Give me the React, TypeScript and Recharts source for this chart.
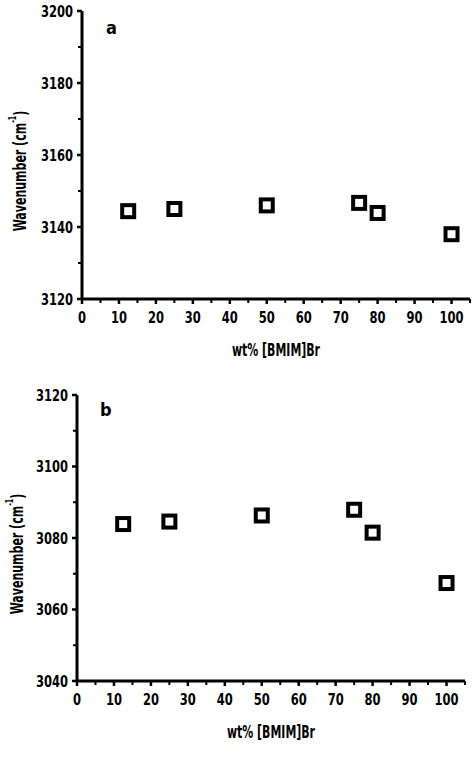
import { ScatterChart, Scatter, XAxis, YAxis, ReferenceDot, Label } from "recharts";

const wtPercent = [12.5, 25, 50, 75, 80, 100];
const wavenumberA = [3144.4, 3145, 3146, 3146.7, 3143.9, 3138];
const wavenumberB = [3083.9, 3084.6, 3086.3, 3087.9, 3081.5, 3067.4];

const xTicks = [0, 5, 10, 15, 20, 25, 30, 35, 40, 45, 50, 55, 60, 65, 70, 75, 80, 85, 90, 95, 100, 105];
const yTicksA = [3120, 3130, 3140, 3150, 3160, 3170, 3180, 3190, 3200];
const yTicksB = [3040, 3050, 3060, 3070, 3080, 3090, 3100, 3110, 3120];

const xTitle = "wt% [BMIM]Br";
const yTitle = "Wavenumber (cm";

const FONT = "'DejaVu Sans Condensed', 'DejaVu Sans', sans-serif";

const dataA = wtPercent.map((x, i) => ({ x, y: wavenumberA[i] }));
const dataB = wtPercent.map((x, i) => ({ x, y: wavenumberB[i] }));

function XTick({ x, y, payload }: any) {
  const major = payload.value % 10 === 0 && payload.value <= 100;
  return (
    <g>
      <line x1={x} x2={x} y1={y} y2={y + (major ? 5 : 4)} stroke="#000" strokeWidth={major ? 2.5 : 2} />
      {major && (
        <text
          transform={`translate(${x},${y + 24}) scale(0.8,1)`}
          textAnchor="middle"
          fontFamily={FONT}
          fontWeight="bold"
          fontSize={16}
          fill="#000"
        >
          {payload.value}
        </text>
      )}
    </g>
  );
}

function YTick({ x, y, payload }: any) {
  const major = payload.value % 20 === 0;
  return (
    <g>
      <line x1={x} x2={x - (major ? 5 : 4)} y1={y} y2={y} stroke="#000" strokeWidth={major ? 2.5 : 2} />
      {major && (
        <text
          transform={`translate(${x - 9},${y}) scale(0.8,1)`}
          dy="0.36em"
          textAnchor="end"
          fontFamily={FONT}
          fontWeight="bold"
          fontSize={16}
          fill="#000"
        >
          {payload.value}
        </text>
      )}
    </g>
  );
}

function Square({ cx, cy }: any) {
  return <rect x={cx - 6} y={cy - 6} width={12} height={12} fill="#fff" stroke="#000" strokeWidth={4} />;
}

function YTitle({ viewBox, cx }: any) {
  const cy = viewBox.y + viewBox.height / 2 + 16;
  return (
    <text
      transform={`translate(${cx},${cy}) rotate(-90) scale(0.72,1)`}
      textAnchor="middle"
      dominantBaseline="central"
      fontFamily={FONT}
      fontWeight="bold"
      fontSize={17}
      fill="#000"
    >
      {yTitle}
      <tspan dy={-7} fontSize={10}>-1</tspan>
      <tspan dy={7}>)</tspan>
    </text>
  );
}

function XTitle({ viewBox }: any) {
  const cx = viewBox.x + viewBox.width / 2;
  return (
    <text
      x={cx}
      y={viewBox.y + 57}
      textAnchor="middle"
      textLength={88}
      lengthAdjust="spacingAndGlyphs"
      fontFamily={FONT}
      fontWeight="bold"
      fontSize={18}
      fill="#000"
    >
      {xTitle}
    </text>
  );
}

type PanelProps = {
  data: { x: number; y: number }[];
  yTicks: number[];
  height: number;
  axisX: number;
  margin: { top: number; right: number; bottom: number; left: number };
  letter: string;
  letterPos: { x: number; y: number };
  titleX: number;
};

function Panel({ data, yTicks, height, axisX, margin, letter, letterPos, titleX }: PanelProps) {
  return (
    <ScatterChart width={474} height={height} margin={margin}>
      <XAxis
        type="number"
        dataKey="x"
        domain={[0, 105]}
        ticks={xTicks}
        interval={0}
        height={40}
        tickSize={0}
        tickMargin={0}
        tickLine={false}
        tick={<XTick />}
        axisLine={{ stroke: "#000", strokeWidth: 3 }}
      >
        <Label content={<XTitle />} />
      </XAxis>
      <YAxis
        type="number"
        dataKey="y"
        domain={[yTicks[0], yTicks[yTicks.length - 1]]}
        ticks={yTicks}
        interval={0}
        width={axisX}
        tickSize={0}
        tickMargin={0}
        tickLine={false}
        tick={<YTick />}
        axisLine={{ stroke: "#000", strokeWidth: 3 }}
      >
        <Label content={<YTitle cx={titleX} />} />
      </YAxis>
      <ReferenceDot
        x={letterPos.x}
        y={letterPos.y}
        r={0}
        fill="none"
        stroke="none"
        label={{ value: letter, position: "center", fontFamily: FONT, fontWeight: "bold", fontSize: 18, fill: "#000" }}
      />
      <Scatter data={data} shape={<Square />} isAnimationActive={false} />
    </ScatterChart>
  );
}

export default function App() {
  return (
    <div style={{ position: "absolute", left: 0, top: 0, width: 474, height: 758, background: "#fff" }}>
      <Panel
        data={dataA}
        yTicks={yTicksA}
        height={380}
        axisX={82}
        margin={{ top: 11, right: 4, bottom: 41, left: 0 }}
        letter="a"
        letterPos={{ x: 8, y: 3195.5 }}
        titleX={20}
      />
      <Panel
        data={dataB}
        yTicks={yTicksB}
        height={378}
        axisX={77}
        margin={{ top: 15, right: 9, bottom: 37, left: 0 }}
        letter="b"
        letterPos={{ x: 7.8, y: 3116 }}
        titleX={17}
      />
    </div>
  );
}
